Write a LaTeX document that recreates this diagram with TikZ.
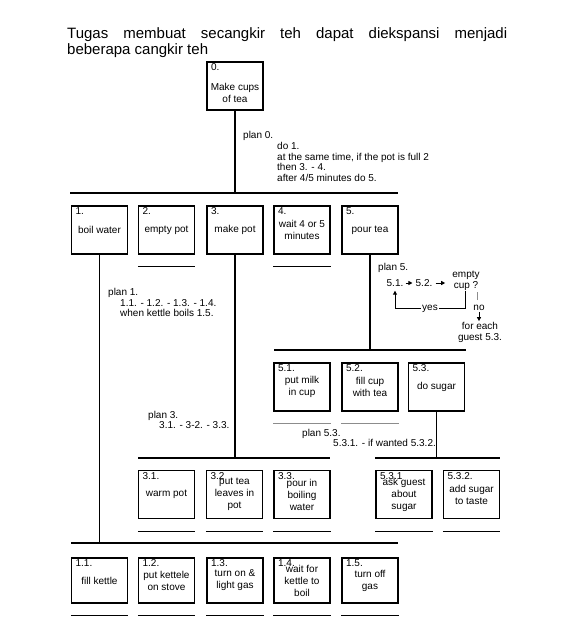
\documentclass[tikz,border=0pt]{standalone}
\usepackage{fontspec}
\setmainfont{Liberation Sans}
\usetikzlibrary{arrows.meta}

\begin{document}
\begin{tikzpicture}[x=1pt,y=-1pt,
    task/.style = {draw,line width=1.2pt,minimum width=56pt,minimum height=48pt,
      inner sep=1pt,align=center,font=\fontsize{10}{12}\selectfont},
    lowtask/.style = {task,minimum height=45pt},
    num/.style = {anchor=north west,inner sep=0pt,xshift=4.5pt,yshift=-2pt,
      font=\fontsize{10}{12}\selectfont},
    plantext/.style = {anchor=north west,inner sep=0pt,align=left,
      font=\fontsize{10}{10.6}\selectfont},
    flow/.style = {inner sep=1pt,align=center,font=\fontsize{10}{11}\selectfont},
    title/.style = {anchor=base west,inner sep=0pt,font=\fontsize{15}{17}\selectfont},
    bar/.style = {line width=1.2pt},
    greybar/.style = {line width=1.2pt,draw=black!45},
    tip/.style = {line width=0.9pt,-{Triangle[length=4pt,width=4pt]}}]
  \useasboundingbox (0,0) rectangle (563,625);

  \node[title] (title1) at (67,38.5)
    {\makebox[440pt][s]{Tugas membuat secangkir teh dapat diekspansi menjadi}};
  \node[title] (title2) at (67,54.5) {beberapa cangkir teh};

  \node[task,label={[num]north west:0.}] (b0) at (235,86) {\strut\\Make cups\\of tea};

  \node[task,label={[num]north west:1.}] (b1) at (99.5,230) {boil water};
  \node[task,label={[num]north west:2.}] (b2) at (166.5,230) {empty pot};
  \node[task,label={[num]north west:3.}] (b3) at (235,230) {make pot};
  \node[task,label={[num]north west:4.}] (b4) at (302,230) {wait 4 or 5\\minutes};
  \node[task,label={[num]north west:5.}] (b5) at (370,230) {pour tea};

  \node[task,label={[num]north west:5.1.}] (b51) at (302,387) {put milk\\in cup};
  \node[task,label={[num]north west:5.2.}] (b52) at (370,387) {fill cup\\with tea};
  \node[task,label={[num]north west:5.3.}] (b53) at (436.5,387) {do sugar};

  \node[task,label={[num]north west:3.1.}] (b31) at (166.5,494.5) {warm pot};
  \node[task,label={[num]north west:3.2}] (b32) at (234.5,494.5) {put tea\\leaves in\\pot};
  \node[task,label={[num]north west:3.3.}] (b33) at (302,494.5) {pour in\\boiling\\water};
  \node[task,label={[num]north west:5.3.1}] (b531) at (404,494.5) {ask guest\\about\\sugar};
  \node[task,label={[num]north west:5.3.2.}] (b532) at (471.5,494.5) {add sugar\\to taste};

  \node[lowtask,label={[num]north west:1.1.}] (b11) at (99.5,580.5) {fill kettle};
  \node[lowtask,label={[num]north west:1.2.}] (b12) at (166.5,580.5) {put kettele\\on stove};
  \node[lowtask,label={[num]north west:1.3.}] (b13) at (235,580.5) {turn on \&\\light gas};
  \node[lowtask,label={[num]north west:1.4.}] (b14) at (302,580.5) {wait for\\kettle to\\boil};
  \node[lowtask,label={[num]north west:1.5.}] (b15) at (370,580.5) {turn off\\gas};

  \coordinate (bar0w) at (70,193);   \coordinate (bar0e) at (398,193);
  \coordinate (bar5w) at (274,350);  \coordinate (bar5e) at (466,350);
  \coordinate (bar3w) at (138,458);  \coordinate (bar3e) at (330,458);
  \coordinate (bar53w) at (375,458); \coordinate (bar53e) at (500,458);
  \coordinate (bar1w) at (71,543);   \coordinate (bar1e) at (398,543);

  \foreach \b in {bar0,bar5,bar3,bar53,bar1}
    \draw[bar] (\b w) -- (\b e);
  \draw[bar] (b0) -- (b0 |- bar0w);
  \draw[bar] (b5) -- (b5 |- bar5w);
  \draw[bar] (b3) -- (b3 |- bar3w);
  \draw[bar] (b53) -- (b53 |- bar53w);
  \draw[bar] (b1) -- (b1 |- bar1w);

  \foreach \n in {b2,b4,b31,b32,b33,b531,b532,b11,b12,b13,b14,b15}
    \draw[bar] ([yshift=-12pt]\n.south west) -- ([yshift=-12pt]\n.south east);
  \foreach \n in {b51,b52}
    \draw[greybar] ([yshift=-12pt]\n.south west) -- ([yshift=-12pt]\n.south east);

  \node[plantext] (plan0) at (243,131.2) {plan 0.};
  \node[plantext] (plan0b) at (277,142.2)
    {do 1.\\at the same time, if the pot is full 2\\then 3. - 4.\\after 4/5 minutes do 5.};
  \node[plantext] (plan1) at (108,288.2) {plan 1.};
  \node[plantext] (plan1b) at (120,299.2) {1.1. - 1.2. - 1.3. - 1.4.\\when kettle boils 1.5.};
  \node[plantext] (plan3) at (148,411.2) {plan 3.};
  \node[plantext] (plan3b) at (159,421.2) {3.1. - 3-2. - 3.3.};
  \node[plantext] (plan53) at (302,429.2) {plan 5.3.};
  \node[plantext] (plan53b) at (333,439.2) {5.3.1. - if wanted 5.3.2.};
  \node[plantext] (plan5) at (378,263) {plan 5.};

  \node[flow] (n51) at (395,283) {5.1.};
  \node[flow] (n52) at (424,283) {5.2.};
  \node[flow] (ncup) at (466,280.5) {empty\\cup ?};
  \node[flow] (no) at (479,308) {no};
  \node[flow] (n53) at (480,332.5) {for each\\guest 5.3.};

  \draw[tip,shorten <=1pt,shorten >=2pt] (n51) -- (n52);
  \draw[tip,shorten <=2pt,shorten >=6pt] (n52.east) -- (n52.east -| ncup.west);
  \draw[tip,shorten >=3pt] ([xshift=-1pt]ncup.south) -- ++(0,17)
    -| node[flow,pos=0.25,fill=white] (yes) {yes} (n51.south);
  \draw[greybar,line width=1pt] ([yshift=4pt,xshift=-1.5pt]no.north) -- ++(0,-8);
  \draw[tip] (no.south) -- (no.south |- n53.north);
\end{tikzpicture}
\end{document}
